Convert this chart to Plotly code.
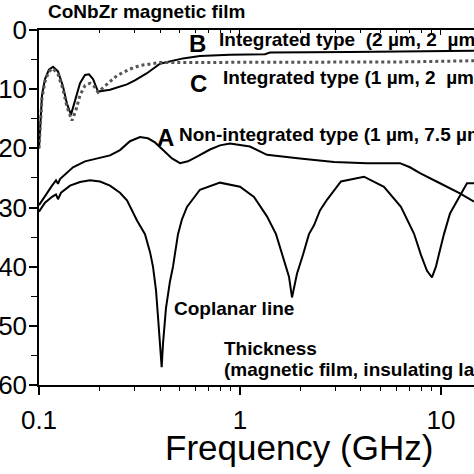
import numpy as np
import plotly.graph_objects as go

# curve B: integrated type (2 um, 2 um)
b_freq = [0.100, 0.1012, 0.1035, 0.1071, 0.1121, 0.1174, 0.1243, 0.1316, 0.1378, 0.1443,
          0.1511, 0.160, 0.1694, 0.1774, 0.1857, 0.1966, 0.2256, 0.274, 0.300, 0.3445,
          0.400, 0.5205, 0.632, 0.892, 1.331, 1.41, 3.526, 14.6]
b_loss = [20, 16, 11, 8.3, 6.7, 6.2, 7, 9.5, 12.5, 14.3,
          12, 9, 7.6, 7.5, 8.3, 10.4, 10.1, 9.2, 8.5, 7.3,
          5.7, 4.8, 4.4, 4.2, 4.1, 3.8, 3.7, 3.5]

# curve C: integrated type (1 um, 2 um)
c_freq = [0.100, 0.1012, 0.1035, 0.1071, 0.1121, 0.1174, 0.1243, 0.1316, 0.1378, 0.1459,
          0.1528, 0.160, 0.1694, 0.1794, 0.1878, 0.1966, 0.213, 0.2444, 0.2836, 0.318,
          0.400, 0.632, 1.988, 6.25, 14.6]
c_loss = [20, 16.5, 11.5, 8.7, 7.0, 6.5, 7.5, 10, 13, 15.3,
          13.5, 11, 9.4, 9.0, 9.5, 10.5, 9.5, 7.7, 6.6, 6.0,
          5.5, 5.5, 5.5, 5.4, 5.2]

# curve A: non-integrated type (1 um, 7.5 um)
a_freq = [0.100, 0.1071, 0.1161, 0.1215, 0.1243, 0.1272, 0.1362, 0.1476, 0.1694, 0.1944,
          0.2256, 0.2529, 0.2836, 0.318, 0.3485, 0.3776, 0.414, 0.459, 0.503, 0.551,
          0.611, 0.709, 0.795, 0.892, 1.121, 1.362, 1.988, 2.935, 4.28, 6.25,
          7.01, 7.86, 9.89, 12.43, 14.6]
a_loss = [29.6, 28, 26.3, 25.4, 26.0, 25.2, 24.3, 23.2, 22.2, 21.7,
          21.2, 20.3, 18.8, 18.1, 18.3, 19, 20.3, 21.7, 22.5, 22.2,
          21.4, 20.2, 19.5, 19.2, 19.7, 21.1, 21.7, 22.3, 22.5, 22.5,
          23.2, 24.2, 25.9, 27.6, 29.0]

# coplanar line
cpw_freq = [0.100, 0.1071, 0.1161, 0.1215, 0.1243, 0.1287, 0.1427, 0.160, 0.1794, 0.2012,
            0.2256, 0.2529, 0.274, 0.3073, 0.3368, 0.3566, 0.3691, 0.3821, 0.391, 0.400,
            0.4077, 0.414, 0.4283, 0.4484, 0.4642, 0.4915, 0.5145, 0.5448, 0.632, 0.795,
            1.0, 1.174, 1.362, 1.511, 1.655, 1.753, 1.815, 1.878, 1.921, 2.058,
            2.204, 2.335, 2.50, 2.709, 3.18, 4.14, 5.205, 6.32, 7.34, 7.95,
            8.52, 9.02, 9.44, 9.77, 10.35, 11.09, 12.58, 13.47, 14.6]
cpw_loss = [30.7, 29.2, 28.2, 27.8, 28.6, 27.5, 26.3, 25.7, 25.4, 25.6,
            26.3, 27.5, 28.8, 32.2, 34.5, 37.5, 40, 44, 48.5, 53,
            57, 53, 47, 42.5, 40, 34.5, 32, 29.9, 27, 25.8,
            26.5, 28.2, 31.5, 34.5, 39, 41.7, 45.2, 42.5, 41.2, 38,
            34.5, 33, 30.5, 28.7, 25.6, 24.8, 26.5, 29.9, 34.4, 38,
            40.7, 41.8, 40, 37.9, 34.5, 31, 27.6, 25.9, 25.9]

W, H = 474, 474
L, T, B = 39, 30, 89
x_range = [-1, np.log10(14.6)]
minor_vals = [0.2, 0.3, 0.4, 0.5, 0.6, 0.7, 0.8, 0.9, 2, 3, 4, 5, 6, 7, 8, 9]


def px(x):
    return (x - L) / (W - L)


def py(y):
    return (H - B - y) / (H - B - T)


FONT = "Liberation Sans, Arial, sans-serif"

fig = go.Figure()
line = dict(color="black", width=2)
fig.add_trace(go.Scatter(x=cpw_freq, y=cpw_loss, mode="lines", line=line))
fig.add_trace(go.Scatter(x=a_freq, y=a_loss, mode="lines", line=line))
fig.add_trace(go.Scatter(x=b_freq, y=b_loss, mode="lines", line=line))
fig.add_trace(go.Scatter(x=c_freq, y=c_loss, mode="lines",
                         line=dict(color="#555555", width=3, dash="dot")))
# top frame
fig.add_trace(go.Scatter(x=[1], y=[None], xaxis="x2", showlegend=False))

fig.update_layout(
    template="none",
    width=W, height=H,
    margin=dict(l=L, r=0, t=T, b=B, autoexpand=False),
    paper_bgcolor="white", plot_bgcolor="white",
    showlegend=False,
    font=dict(family=FONT, color="black"),
    xaxis=dict(type="log", range=x_range, showgrid=False, zeroline=False, automargin=False,
               showline=True, linecolor="black", linewidth=1.5,
               ticks="outside", ticklen=8, tickwidth=1.5, tickcolor="black",
               tickvals=[0.1, 1, 10], ticktext=["0.1", "1", "10"],
               tickfont=dict(size=26), ticklabelstandoff=3,
               minor=dict(ticks="outside", ticklen=4, tickwidth=1.2, tickcolor="black",
                          tickvals=minor_vals, showgrid=False)),
    xaxis2=dict(type="log", range=x_range, overlaying="x", side="top", anchor="y",
                showgrid=False, zeroline=False, showticklabels=False, automargin=False,
                showline=True, linecolor="black", linewidth=1.5,
                ticks="inside", ticklen=5, tickwidth=1.2, tickcolor="black",
                tickvals=[0.1, 1, 10],
                minor=dict(ticks="inside", ticklen=3, tickwidth=1, tickcolor="black",
                           tickvals=minor_vals, showgrid=False)),
    yaxis=dict(range=[60, 0], showgrid=False, zeroline=False, automargin=False,
               showline=True, linecolor="black", linewidth=1.5,
               ticks="outside", ticklen=8, tickwidth=1.5, tickcolor="black",
               dtick=10, tickfont=dict(size=26), ticklabelstandoff=-3,
               minor=dict(ticks="outside", ticklen=6, tickwidth=1.2, tickcolor="black",
                          dtick=5, showgrid=False)),
)


def label(text, x, y, size=19, anchor="left"):
    fig.add_annotation(text=text, x=px(x), y=py(y), xref="paper", yref="paper",
                       xanchor=anchor, yanchor="middle", showarrow=False,
                       font=dict(size=size, family=FONT, color="black"))


label("<b>CoNbZr magnetic film</b>", 46, 11)
label("<b>B</b>", 197, 44, size=24, anchor="center")
label("<b>Integrated type  (2 µm, 2  µm)</b>", 217, 40)
label("<b>C</b>", 198, 83, size=24, anchor="center")
label("<b>Integrated type (1 µm, 2  µm)</b>", 221, 77)
label("<b>A</b>", 165, 137, size=24, anchor="center")
label("<b>Non-integrated type (1 µm, 7.5 µm)</b>", 177, 134)
label("<b>Coplanar line</b>", 172, 308)
label("<b>Thickness</b>", 222, 348)
label("<b>(magnetic film, insulating layer)</b>", 222, 369)
label("Frequency (GHz)", 299, 447, size=35, anchor="center")

fig.write_html("out.html", config={"displayModeBar": False},
               post_script="document.body.style.margin='0';document.body.style.overflow='hidden';")
